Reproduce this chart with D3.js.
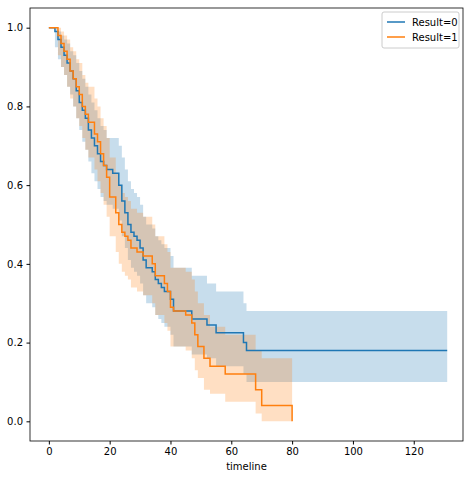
<!DOCTYPE html>
<html><head><meta charset="utf-8">
<script src="https://cdn.jsdelivr.net/npm/d3@7"></script>
<style>body{margin:0;background:#fff}text{font-family:"DejaVu Sans",sans-serif}</style>
</head><body><div id="graf"></div>
<script>
// Result=0
var t0 = [0,2,3,4,5,6,7,8,9,10,11,12,13,14,15,16,17,18,19,21,23,24,25,26,27,28,29,30,31,32,34,35,36,37,38,40,41,47,52,55,64,65];
var s0 = [1,.99,.97,.95,.93,.91,.89,.87,.84,.81,.79,.77,.74,.72,.70,.68,.66,.65,.64,.63,.60,.56,.53,.50,.48,.47,.46,.44,.41,.39,.38,.36,.35,.34,.33,.31,.28,.26,.245,.225,.20,.18];
var hi0 = [1,1,.99,.98,.97,.96,.94,.93,.91,.89,.87,.85,.83,.81,.79,.77,.75,.74,.72,.72,.70,.67,.64,.61,.59,.58,.57,.55,.52,.50,.49,.47,.46,.45,.44,.42,.39,.37,.35,.33,.30,.28];
var lo0 = [1,.95,.92,.90,.88,.85,.83,.80,.77,.74,.71,.69,.66,.63,.61,.59,.57,.56,.55,.54,.51,.47,.44,.41,.39,.38,.37,.35,.32,.30,.29,.27,.26,.25,.24,.22,.19,.17,.16,.14,.12,.10];
var end0 = 131;
// Result=1
var t1 = [0,3,4,5,6,7,8,9,10,11,12,13,15,16,17,18,19,20,22,23,24,25,26,27,29,31,34,35,38,39,40,41,45,47,48,49,51,53,58,68,70,80];
var s1 = [1,.98,.96,.94,.92,.89,.87,.85,.83,.80,.78,.76,.73,.71,.68,.65,.62,.57,.53,.50,.48,.47,.46,.44,.43,.42,.40,.37,.35,.33,.29,.28,.27,.25,.22,.19,.16,.14,.12,.08,.04,0];
var hi1 = [1,1,.99,.98,.97,.95,.94,.92,.91,.88,.86,.85,.82,.80,.77,.75,.72,.67,.63,.60,.58,.57,.56,.54,.53,.52,.50,.47,.45,.43,.39,.39,.38,.36,.33,.30,.27,.24,.22,.18,.16,.16];
var lo1 = [1,.93,.90,.88,.85,.82,.80,.77,.75,.72,.69,.67,.64,.61,.58,.55,.52,.47,.43,.40,.38,.37,.36,.34,.33,.32,.30,.27,.25,.23,.19,.19,.18,.16,.13,.11,.08,.07,.05,.02,0,0];
var end1 = 80;
var xTicks = [0,20,40,60,80,100,120];
var yTicks = [0,0.2,0.4,0.6,0.8,1.0];

var W = 474, H = 479;
var m = {top: 8, left: 30, right: 11, bottom: 38};
var svg = d3.select("#graf").append("svg").attr("width", W).attr("height", H);
var g = svg.append("g").attr("transform", `translate(${m.left},${m.top})`);
var w = W - m.left - m.right, h = H - m.top - m.bottom;

var x = d3.scaleLinear().domain([-6.2, 136.2]).range([0, w]);
var y = d3.scaleLinear().domain([-0.05, 1.05]).range([h, 0]);

function rows(t, s, lo, hi, end) {
  var r = t.map((d, i) => ({t: d, s: s[i], lo: lo[i], hi: hi[i]}));
  var last = r[r.length - 1];
  if (end > last.t) r.push({t: end, s: last.s, lo: last.lo, hi: last.hi});
  return r;
}
var series = [
  {name: "Result=0", c: "#1f77b4", d: rows(t0, s0, lo0, hi0, end0)},
  {name: "Result=1", c: "#ff7f0e", d: rows(t1, s1, lo1, hi1, end1)}
];

var area = d3.area().curve(d3.curveStepAfter).x(d => x(d.t)).y0(d => y(d.lo)).y1(d => y(d.hi));
var line = d3.line().curve(d3.curveStepAfter).x(d => x(d.t)).y(d => y(d.s));

series.forEach(sr => {
  g.append("path").attr("d", area(sr.d)).attr("fill", sr.c).attr("fill-opacity", 0.25);
});
series.forEach(sr => {
  g.append("path").attr("d", line(sr.d)).attr("fill", "none").attr("stroke", sr.c).attr("stroke-width", 1.5);
});

var xa = g.append("g").attr("transform", `translate(0,${h})`)
  .call(d3.axisBottom(x).tickValues(xTicks).tickSize(3.5).tickPadding(3.5));
var ya = g.append("g")
  .call(d3.axisLeft(y).tickValues(yTicks).tickFormat(d3.format(".1f")).tickSize(3.5).tickPadding(3.5));
[xa, ya].forEach(a => { a.selectAll("text").attr("font-size", 10).attr("fill", "#000"); a.select(".domain").remove(); });
g.append("rect").attr("width", w).attr("height", h).attr("fill", "none").attr("stroke", "#000").attr("stroke-width", 0.8);
g.append("text").attr("x", w / 2).attr("y", h + 29).attr("text-anchor", "middle").attr("font-size", 10).text("timeline");

var lg = g.append("g").attr("transform", `translate(${w - 81},4)`);
lg.append("rect").attr("width", 77).attr("height", 36).attr("rx", 2).attr("fill", "#fff").attr("fill-opacity", 0.8).attr("stroke", "#ccc");
series.forEach((sr, i) => {
  var yy = 10 + i * 15;
  lg.append("line").attr("x1", 5).attr("x2", 23).attr("y1", yy).attr("y2", yy).attr("stroke", sr.c).attr("stroke-width", 1.5);
  lg.append("text").attr("x", 30).attr("y", yy + 3.5).attr("font-size", 10).text(sr.name);
});
</script></body></html>
